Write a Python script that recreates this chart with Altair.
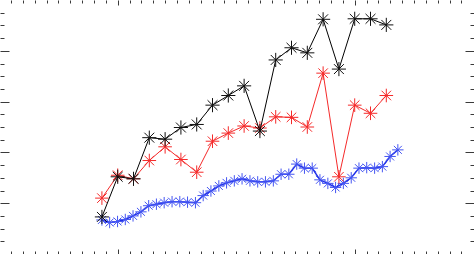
import altair as alt
import pandas as pd

# ---- data ----
black_x = list(range(19))
black_y = [0.73, 1.52, 1.48, 2.29, 2.26, 2.49, 2.55, 2.93, 3.12, 3.31,
           2.42, 3.82, 4.06, 3.96, 4.62, 3.64, 4.63, 4.63, 4.51]
red_x = list(range(19))
red_y = [1.10, 1.55, 1.48, 1.84, 2.11, 1.86, 1.61, 2.22, 2.38, 2.52,
         2.48, 2.70, 2.69, 2.50, 3.56, 1.52, 2.93, 2.77, 3.12]
blue_x = [0, 0.49, 0.99, 1.48, 1.97, 2.47, 2.96, 3.45, 3.94, 4.44,
          4.93, 5.42, 5.92, 6.41, 6.9, 7.4, 7.89, 8.38, 8.87, 9.37,
          9.86, 10.35, 10.85, 11.34, 11.83, 12.33, 12.82, 13.31, 13.8, 14.3,
          14.79, 15.28, 15.78, 16.27, 16.76, 17.26, 17.75, 18.24, 18.73]
blue_y = [0.67, 0.62, 0.64, 0.68, 0.75, 0.83, 0.95, 0.98, 1.01, 1.03,
          1.03, 1.02, 1.01, 1.15, 1.24, 1.34, 1.40, 1.44, 1.48, 1.44,
          1.42, 1.42, 1.44, 1.57, 1.57, 1.77, 1.69, 1.69, 1.46, 1.39,
          1.31, 1.39, 1.50, 1.69, 1.70, 1.69, 1.72, 1.92, 2.05]

x_domain = [-6.45, 23.55]
y_domain = [0, 5]
x_ticks = [1 + 0.75 * k for k in range(-10, 30)]
y_ticks = [0.25 * k for k in range(1, 20)]

W, H = 474, 254
STAR = "M-1,0L1,0M0,-1L0,1M-0.7,-0.7L0.7,0.7M-0.7,0.7L0.7,-0.7"
TICK = "#3a3a3a"

bdf = pd.DataFrame({"x": blue_x, "y": blue_y})
rdf = pd.DataFrame({"x": red_x, "y": red_y})
kdf = pd.DataFrame({"x": black_x, "y": black_y})

xmaj = "datum.value === 1 || datum.value === 16"
ymaj = "datum.value % 1 === 0"


def xaxis(orient):
    return alt.Axis(orient=orient, offset=-H, values=x_ticks, labels=False,
                    domain=False, grid=False, title=None, tickColor=TICK,
                    tickWidth=1,
                    tickSize={"condition": {"test": xmaj, "value": 5}, "value": 3})


def yaxis(orient):
    return alt.Axis(orient=orient, offset=-W, values=y_ticks, labels=False,
                    domain=False, grid=False, title=None, tickColor=TICK,
                    tickWidth=1,
                    tickSize={"condition": {"test": ymaj, "value": 9}, "value": 4})


def series(df, lcolor, mcolor, lw, size, xa, ya):
    xs = alt.Scale(domain=x_domain, nice=False, zero=False)
    ys = alt.Scale(domain=y_domain, nice=False, zero=False)
    line = alt.Chart(df).mark_line(color=lcolor, strokeWidth=lw).encode(
        x=alt.X("x:Q", scale=xs, axis=xa),
        y=alt.Y("y:Q", scale=ys, axis=ya),
    )
    pts = alt.Chart(df).mark_point(shape=STAR, size=size, filled=False,
                                   stroke=mcolor, strokeWidth=1, opacity=1).encode(
        x=alt.X("x:Q", scale=xs, axis=None),
        y=alt.Y("y:Q", scale=ys, axis=None),
    )
    return line, pts


bl, bp = series(bdf, "#1f2ee8", "#4455f2", 1.5, 130, xaxis("top"), yaxis("right"))
rl, rp = series(rdf, "#f52a2a", "#f52a2a", 1, 185, xaxis("bottom"), yaxis("left"))
kl, kp = series(kdf, "#000000", "#111111", 1, 200, None, None)

chart = alt.layer(bl, bp, rl, rp, kl, kp).resolve_scale(
    x="independent", y="independent"
).properties(
    width=W, height=H, padding=0,
    autosize=alt.AutoSizeParams(type="none"),
    background="white",
).configure_view(stroke=None)

chart.save("out.html", embed_options={"renderer": "svg", "actions": False})
